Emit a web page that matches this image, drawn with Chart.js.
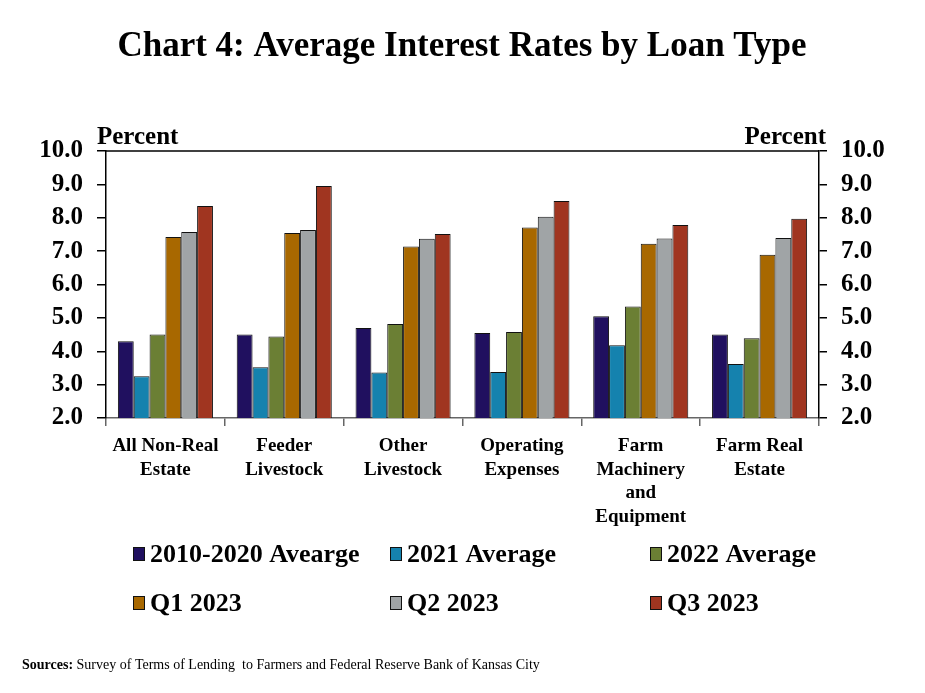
<!DOCTYPE html>
<html>
<head>
  <meta charset="UTF-8">
  <title>Chart 4: Average Interest Rates by Loan Type</title>
  <script src="https://cdn.jsdelivr.net/npm/chart.js"></script>
  <style>
    body { margin: 0; background: #fff; }
    #wrap { width: 925px; height: 693px; }
  </style>
</head>
<body>
  <div id="wrap"><canvas id="rates" width="925" height="693"></canvas></div>
  <script>
    // loan types (x axis)
    var categories = [
      ['All Non-Real', 'Estate'],
      ['Feeder', 'Livestock'],
      ['Other', 'Livestock'],
      ['Operating', 'Expenses'],
      ['Farm', 'Machinery', 'and', 'Equipment'],
      ['Farm Real', 'Estate']
    ];

    var seriesNames = ['2010-2020 Avearge', '2021 Average', '2022 Average', 'Q1 2023', 'Q2 2023', 'Q3 2023'];
    var seriesColors = ['#20105F', '#1582AE', '#6B7F34', '#A86800', '#A0A4A6', '#A03520'];

    // percent
    var avg2010_2020 = [4.3, 4.5, 4.7, 4.55, 5.05, 4.5];
    var avg2021 = [3.25, 3.52, 3.36, 3.38, 4.18, 3.62];
    var avg2022 = [4.5, 4.44, 4.82, 4.58, 5.34, 4.39];
    var q1_2023 = [7.42, 7.54, 7.14, 7.71, 7.22, 6.89];
    var q2_2023 = [7.57, 7.63, 7.37, 8.03, 7.38, 7.39];
    var q3_2023 = [8.35, 8.95, 7.51, 8.5, 7.78, 7.97];

    var yMin = 2, yMax = 10, yStep = 1;

    var serif = '"Liberation Serif", "Times New Roman", serif';

    var seriesValues = [avg2010_2020, avg2021, avg2022, q1_2023, q2_2023, q3_2023];
    var datasets = seriesNames.map(function (name, i) {
      return {
        label: name,
        data: seriesValues[i],
        backgroundColor: seriesColors[i],
        borderColor: '#111',
        borderWidth: 1,
        borderSkipped: 'bottom',
        categoryPercentage: 0.8,
        barPercentage: 1.0
      };
    });

    // title, "Percent" captions, top frame line, legend grid and source note
    var decorations = {
      id: 'decorations',
      afterDraw: function (chart) {
        var ctx = chart.ctx;
        var area = chart.chartArea;
        ctx.save();

        // top frame
        ctx.strokeStyle = '#000';
        ctx.lineWidth = 1.5;
        ctx.beginPath();
        ctx.moveTo(area.left, area.top);
        ctx.lineTo(area.right, area.top);
        ctx.stroke();

        ctx.fillStyle = '#000';
        ctx.textBaseline = 'alphabetic';
        ctx.font = 'bold 35px ' + serif;
        ctx.textAlign = 'center';
        ctx.fillText('Chart 4: Average Interest Rates by Loan Type', 462, 56);

        ctx.font = 'bold 25px ' + serif;
        ctx.textAlign = 'left';
        ctx.fillText('Percent', 97, 144);
        ctx.textAlign = 'right';
        ctx.fillText('Percent', 826, 144);

        // legend, 3 columns x 2 rows
        var cols = [133, 390, 650];
        var rows = [554, 603];
        ctx.font = 'bold 26px ' + serif;
        ctx.textAlign = 'left';
        ctx.textBaseline = 'middle';
        chart.data.datasets.forEach(function (ds, i) {
          var x = cols[i % 3];
          var y = rows[Math.floor(i / 3)];
          ctx.fillStyle = ds.backgroundColor;
          ctx.fillRect(x, y - 7, 12, 14);
          ctx.strokeStyle = '#111';
          ctx.lineWidth = 1;
          ctx.strokeRect(x + 0.5, y - 6.5, 11, 13);
          ctx.fillStyle = '#000';
          ctx.fillText(ds.label, x + 17, y + 1);
        });

        // source note
        ctx.textBaseline = 'alphabetic';
        ctx.font = 'bold 14px ' + serif;
        ctx.fillText('Sources:', 22, 669);
        var w = ctx.measureText('Sources: ').width;
        ctx.font = '14px ' + serif;
        ctx.fillText('Survey of Terms of Lending  to Farmers and Federal Reserve Bank of Kansas City', 22 + w, 669);

        ctx.restore();
      }
    };

    var yTicks = {
      stepSize: yStep,
      color: '#000',
      padding: 14,
      font: { family: serif, size: 25, weight: 'bold' },
      callback: function (v) { return v.toFixed(1); }
    };

    var ctx = document.getElementById('rates').getContext('2d');
    var ratesChart = new Chart(ctx, {
      type: 'bar',
      data: { labels: categories, datasets: datasets },
      options: {
        responsive: false,
        animation: false,
        devicePixelRatio: 1,
        layout: { padding: { top: 151, left: 0, right: 0, bottom: 0 } },
        plugins: {
          legend: { display: false },
          title: { display: false },
          tooltip: { enabled: false }
        },
        scales: {
          x: {
            offset: true,
            grid: { offset: true, drawOnChartArea: false, tickLength: 8, color: '#666', lineWidth: 1.5 },
            border: { color: '#666', width: 1.5 },
            ticks: {
              color: '#000',
              padding: 8,
              maxRotation: 0,
              autoSkip: false,
              font: { family: serif, size: 19, weight: 'bold', lineHeight: 1.25 }
            },
            afterFit: function (s) { s.height = 275; }
          },
          y: {
            position: 'left',
            min: yMin,
            max: yMax,
            grid: { drawOnChartArea: false, tickLength: 9, color: '#000', lineWidth: 1.5 },
            border: { color: '#000', width: 1.5 },
            ticks: yTicks,
            afterFit: function (s) { s.width = 106; }
          },
          y1: {
            position: 'right',
            min: yMin,
            max: yMax,
            grid: { drawOnChartArea: false, tickLength: 8, color: '#000', lineWidth: 1.5 },
            border: { color: '#000', width: 1.5 },
            ticks: yTicks,
            afterFit: function (s) { s.width = 106; }
          }
        }
      },
      plugins: [decorations]
    });
  </script>
</body>
</html>
